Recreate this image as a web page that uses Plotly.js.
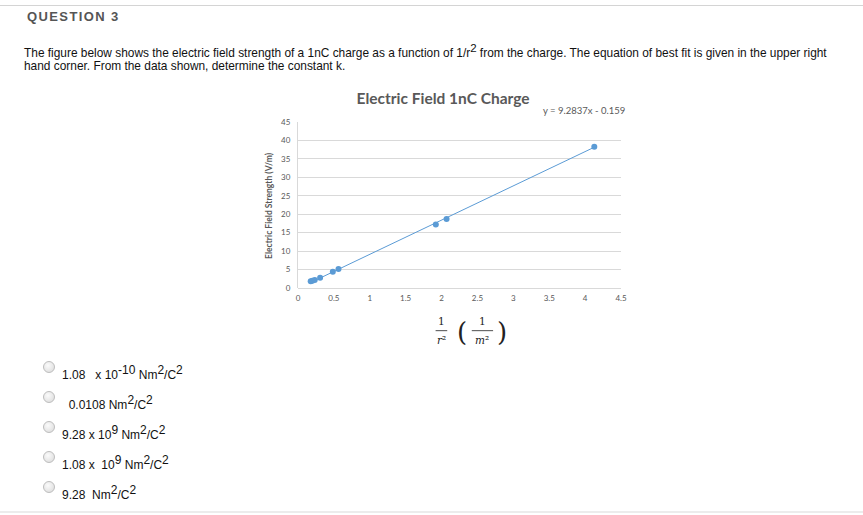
<!DOCTYPE html>
<html>
<head>
<meta charset="utf-8">
<script src="https://cdn.plot.ly/plotly-3.0.1.min.js"></script>
<style>
  html, body { margin: 0; padding: 0; background: #fff; }
  body { width: 863px; height: 515px; position: relative; overflow: hidden;
         font-family: "Liberation Sans", Arial, sans-serif; color: #111; }
  .topline { position: absolute; left: 0; top: 5px; width: 863px; height: 1px; background: #d4d4d4; }
  .botline { position: absolute; left: 0; top: 511px; width: 863px; height: 2px; background: #ececec; }
  .qhead { position: absolute; left: 27px; top: 9px; font-size: 13px; font-weight: bold;
           color: #555; letter-spacing: 1.4px; }
  .qtext { position: absolute; left: 24px; top: 47px; width: 815px; font-size: 11.9px; line-height: 12.5px; }
  .qtext sup { font-size: 11.5px; line-height: 0; vertical-align: 5px; }
  #chart { position: absolute; left: 250px; top: 85px; width: 390px; height: 270px; }
  .opt { position: absolute; left: 43px; font-size: 12px; }
  .opt .radio { position: absolute; left: 0; top: 0; width: 10px; height: 10px; border-radius: 50%;
                border: 1px solid #bdbdbd; background: radial-gradient(circle at 40% 35%, #fbfbfb, #d9d9d9); }
  .opt .lbl { position: absolute; left: 19px; top: 7px; white-space: nowrap; }
  .opt sup { font-size: 12px; line-height: 0; vertical-align: 5px; }
</style>
</head>
<body>
<div class="topline"></div>
<div class="qhead">QUESTION 3</div>
<div class="qtext">The figure below shows the electric field strength of a 1nC charge as a function of 1/r<sup>2</sup> from the charge. The equation of best fit is given in the upper right hand corner. From the data shown, determine the constant k.</div>
<div id="chart"></div>
<div id="options"></div>
<div class="botline"></div>
<script>
// data: 1/r^2 (1/m^2) vs field strength (V/m)
const invR2 = [0.177, 0.20, 0.233, 0.308, 0.485, 0.564, 1.92, 2.07, 4.128];
const fieldStrength = [1.8, 1.99, 2.17, 2.8, 4.43, 5.15, 17.2, 18.7, 38.3];
const fitSlope = 9.2837;
const fitIntercept = -0.159;
const xTicks = [0, 0.5, 1, 1.5, 2, 2.5, 3, 3.5, 4, 4.5];
const yTicks = [0, 5, 10, 15, 20, 25, 30, 35, 40, 45];
const answerLabels = [
  '1.08&nbsp;&nbsp; x 10<sup>-10</sup> Nm<sup>2</sup>/C<sup>2</sup>',
  '&nbsp;&nbsp;0.0108 Nm<sup>2</sup>/C<sup>2</sup>',
  '9.28 x 10<sup>9</sup> Nm<sup>2</sup>/C<sup>2</sup>',
  '1.08 x&nbsp; 10<sup>9</sup> Nm<sup>2</sup>/C<sup>2</sup>',
  '9.28&nbsp; Nm<sup>2</sup>/C<sup>2</sup>'
];

const optBox = document.getElementById('options');
answerLabels.forEach((label, i) => {
  const row = document.createElement('div');
  row.className = 'opt';
  row.style.top = (361 + i * 30) + 'px';
  row.innerHTML = '<div class="radio"></div><div class="lbl">' + label + '</div>';
  optBox.appendChild(row);
});

const blue = '#5b9bd5';
const grey = '#595959';
const font = 'Lato, "Open Sans", sans-serif';

const xMin = Math.min(...invR2);
const xMax = Math.max(...invR2);
const trendX = [xMin, xMax];
const trendY = trendX.map(x => fitSlope * x + fitIntercept);

const traces = [
  {
    type: 'scatter', mode: 'lines', x: trendX, y: trendY,
    line: { color: blue, width: 1 }, hoverinfo: 'skip'
  },
  {
    type: 'scatter', mode: 'markers', x: invR2, y: fieldStrength,
    marker: { color: blue, size: 6 }
  }
];

const eqText = 'y = ' + fitSlope + 'x - ' + Math.abs(fitIntercept);
const mathFam = '"DejaVu Serif", "Liberation Serif", serif';
const mathFont = { family: mathFam, size: 10.5, color: '#222' };
const parenFont = { family: mathFam, size: 26, color: '#222' };

// small helper so every annotation is centred on its point
function note(text, x, y, fnt, extra) {
  return Object.assign({ text, x, y, xref: 'paper', yref: 'paper', showarrow: false,
    xanchor: 'center', yanchor: 'middle', font: fnt }, extra || {});
}

const layout = {
  width: 390, height: 270,
  margin: { l: 48, r: 19, t: 37, b: 67 },
  paper_bgcolor: '#fff', plot_bgcolor: '#fff',
  showlegend: false,
  font: { family: font, color: grey, size: 8 },
  title: {
    text: '<b>Electric Field 1nC Charge</b>',
    font: { family: font, size: 15.5, color: grey },
    x: 0.495, xref: 'container', xanchor: 'center',
    y: 0.948, yref: 'container', yanchor: 'middle'
  },
  xaxis: {
    range: [0, 4.5], tickvals: xTicks, ticktext: xTicks.map(String),
    showgrid: false, zeroline: false, showline: false, ticks: '',
    tickfont: { size: 8, color: grey, family: font }, ticklabelstandoff: 4
  },
  yaxis: {
    range: [0, 45], tickvals: yTicks, ticktext: yTicks.map(String),
    showgrid: true, gridcolor: '#d9d9d9', gridwidth: 1,
    zeroline: true, zerolinecolor: '#d9d9d9', zerolinewidth: 1,
    showline: true, linecolor: '#d9d9d9', linewidth: 1, ticks: '',
    tickfont: { size: 8, color: grey, family: font }, ticklabelstandoff: 5
  },
  annotations: [
    note(eqText, 0.885, 1.068, { family: font, size: 9.5, color: grey }),
    note('<b>Electric Field Strength (V/m)</b>', -0.09, 0.5, { family: font, size: 8.5, color: grey },
      { textangle: -90 }),
    note('1', 0.443, -0.2, mathFont),
    note('<i>r</i>²', 0.445, -0.313, mathFont),
    note('(', 0.508, -0.263, parenFont),
    note(')', 0.632, -0.263, parenFont),
    note('1', 0.570, -0.2, mathFont),
    note('<i>m</i>²', 0.571, -0.313, mathFont)
  ],
  shapes: [
    { type: 'line', xref: 'paper', yref: 'paper', x0: 0.426, x1: 0.462, y0: -0.257, y1: -0.257,
      line: { color: '#222', width: 0.8 } },
    { type: 'line', xref: 'paper', yref: 'paper', x0: 0.538, x1: 0.604, y0: -0.257, y1: -0.257,
      line: { color: '#222', width: 0.8 } }
  ]
};

Plotly.newPlot('chart', traces, layout, { displayModeBar: false, staticPlot: true });
</script>
</body>
</html>
